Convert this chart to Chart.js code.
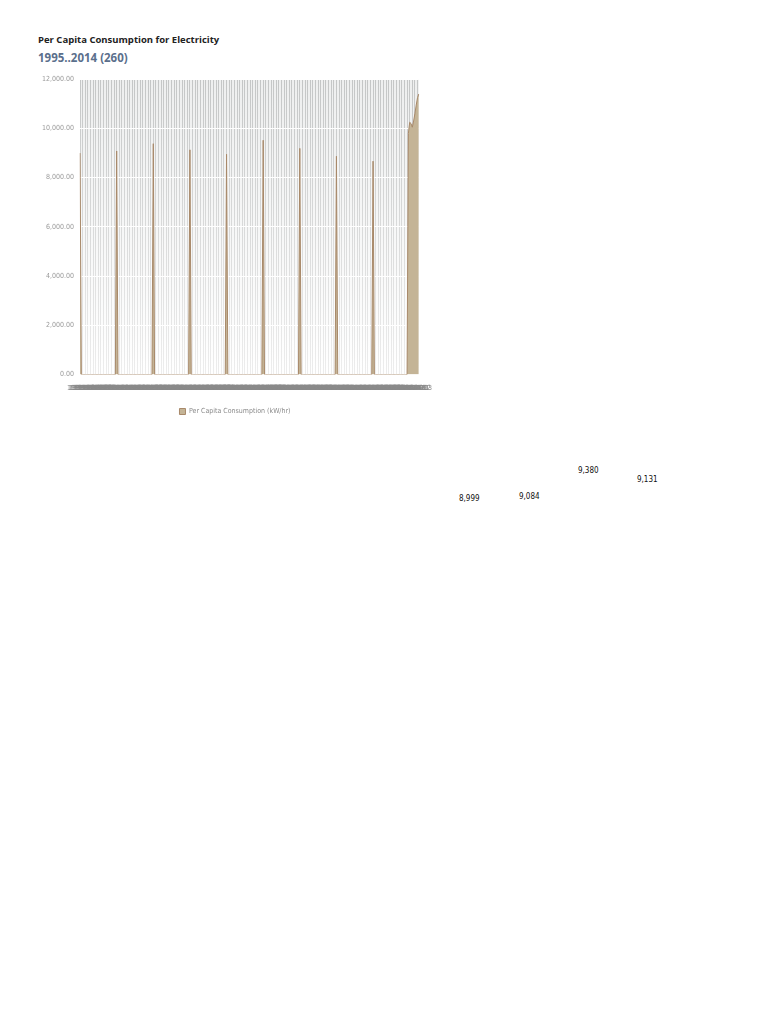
<!DOCTYPE html>
<html>
<head>
<meta charset="utf-8">
<script src="https://cdn.jsdelivr.net/npm/chart.js@4.4.0/dist/chart.umd.min.js"></script>
<style>
  body { margin: 0; background: #fff; width: 768px; height: 1024px; position: relative; font-family: "Open Sans", "DejaVu Sans", sans-serif; }
  #title { position: absolute; left: 38px; top: 33px; font-size: 9.5px; font-weight: bold; color: #222; }
  #subtitle { position: absolute; left: 38px; top: 50px; font-size: 11.5px; font-weight: bold; color: #5b6f8c; }
  #wrap { position: absolute; left: 30px; top: 69px; width: 411px; height: 356px; }
  .lbl { position: absolute; font-family: "DejaVu Sans Condensed", "Liberation Sans Narrow", sans-serif; font-size: 8px; color: #111; }
</style>
</head>
<body>
<div id="title">Per Capita Consumption for Electricity</div>
<div id="subtitle">1995..2014 (260)</div>
<div id="wrap"><canvas id="chart"></canvas></div>
<div class="lbl" style="left:459px; top:494px;">8,999</div>
<div class="lbl" style="left:519px; top:492px;">9,084</div>
<div class="lbl" style="left:578px; top:466px;">9,380</div>
<div class="lbl" style="left:637px; top:475px;">9,131</div>
<script>
// tick labels: 20 years x 13 periods
const years = ['1995','1996','1997','1998','1999','2000','2001','2002','2003','2004',
  '2005','2006','2007','2008','2009','2010','2011','2012','2013','2014'];
const periods = ['01','02','03','04','05','06','07','08','09','10','11','12','13'];

// Per Capita Consumption (kW/hr), 260 rows, 28 per line
const consumption = [
  8999,0,0,0,0,0,0,0,0,0,0,0,0,0,0,0,0,0,0,0,0,0,0,0,0,0,0,0,
  9084,0,0,0,0,0,0,0,0,0,0,0,0,0,0,0,0,0,0,0,0,0,0,0,0,0,0,0,
  9380,0,0,0,0,0,0,0,0,0,0,0,0,0,0,0,0,0,0,0,0,0,0,0,0,0,0,0,
  9131,0,0,0,0,0,0,0,0,0,0,0,0,0,0,0,0,0,0,0,0,0,0,0,0,0,0,0,
  8950,0,0,0,0,0,0,0,0,0,0,0,0,0,0,0,0,0,0,0,0,0,0,0,0,0,0,0,
  9520,0,0,0,0,0,0,0,0,0,0,0,0,0,0,0,0,0,0,0,0,0,0,0,0,0,0,0,
  9190,0,0,0,0,0,0,0,0,0,0,0,0,0,0,0,0,0,0,0,0,0,0,0,0,0,0,0,
  8870,0,0,0,0,0,0,0,0,0,0,0,0,0,0,0,0,0,0,0,0,0,0,0,0,0,0,0,
  8670,0,0,0,0,0,0,0,0,0,0,0,0,0,0,0,0,0,0,0,0,0,0,0,0,0,0,9800,
  10250,10200,10050,10300,10600,10950,11250,11400
];
const yTicks = [0, 2000, 4000, 6000, 8000, 10000, 12000];
const seriesName = 'Per Capita Consumption (kW/hr)';

const labels = [];
years.forEach(y => periods.forEach(p => labels.push(y + '-' + p)));

// light gray-to-white background behind the plot
const plotBg = {
  id: 'plotBg',
  beforeDraw(chart) {
    const { ctx, chartArea: a } = chart;
    const g = ctx.createLinearGradient(0, a.top, 0, a.bottom);
    g.addColorStop(0, '#eeefef');
    g.addColorStop(1, '#ffffff');
    ctx.save();
    ctx.fillStyle = g;
    ctx.fillRect(a.left, a.top, a.right - a.left, a.bottom - a.top);
    ctx.restore();
  }
};

// legend sits a little right of the layout centre in the original
const legendNudge = {
  id: 'legendNudge',
  afterLayout(chart) {
    chart.legend.left += 5;
    chart.legend.right += 5;
  }
};

// vertical grid: every other category, fading toward the bottom
function vGrid(c) {
  if (c.index % 2 !== 0) return 'rgba(0,0,0,0)';
  const a = c.chart.chartArea;
  if (!a) return '#cccccc';
  const g = c.chart.ctx.createLinearGradient(0, a.top, 0, a.bottom);
  g.addColorStop(0, '#c4c6c6');
  g.addColorStop(1, '#ededed');
  return g;
}

const axisFont = { family: 'DejaVu Sans Condensed, Liberation Sans Narrow, sans-serif', size: 7 };

new Chart(document.getElementById('chart'), {
  type: 'line',
  data: {
    labels: labels,
    datasets: [{
      label: seriesName,
      data: consumption,
      borderColor: '#a8896a',
      backgroundColor: '#c4b496',
      borderWidth: 1,
      fill: 'origin',
      tension: 0,
      pointRadius: 0
    }]
  },
  options: {
    responsive: true,
    maintainAspectRatio: false,
    animation: false,
    layout: { padding: { left: 6, right: 17, top: 2, bottom: 0 } },
    scales: {
      x: {
        offset: false,
        grid: { color: vGrid, drawTicks: false },
        border: { display: false },
        ticks: {
          autoSkip: false, maxRotation: 0, minRotation: 0,
          color: '#8a8a8a', font: axisFont, padding: 9
        }
      },
      y: {
        min: 0, max: 12000,
        afterBuildTicks: axis => { axis.ticks = yTicks.map(v => ({ value: v })); },
        grid: { color: '#ffffff', drawTicks: false },
        border: { display: false },
        ticks: {
          color: '#9a9a9a', font: axisFont, padding: 6,
          callback: v => v.toLocaleString('en-US', { minimumFractionDigits: 2, maximumFractionDigits: 2 })
        }
      }
    },
    plugins: {
      legend: {
        position: 'bottom',
        labels: { boxWidth: 6, boxHeight: 6, color: '#8a8a8a', font: axisFont, padding: 7 }
      },
      tooltip: { enabled: false }
    }
  },
  plugins: [plotBg, legendNudge]
});
</script>
</body>
</html>
